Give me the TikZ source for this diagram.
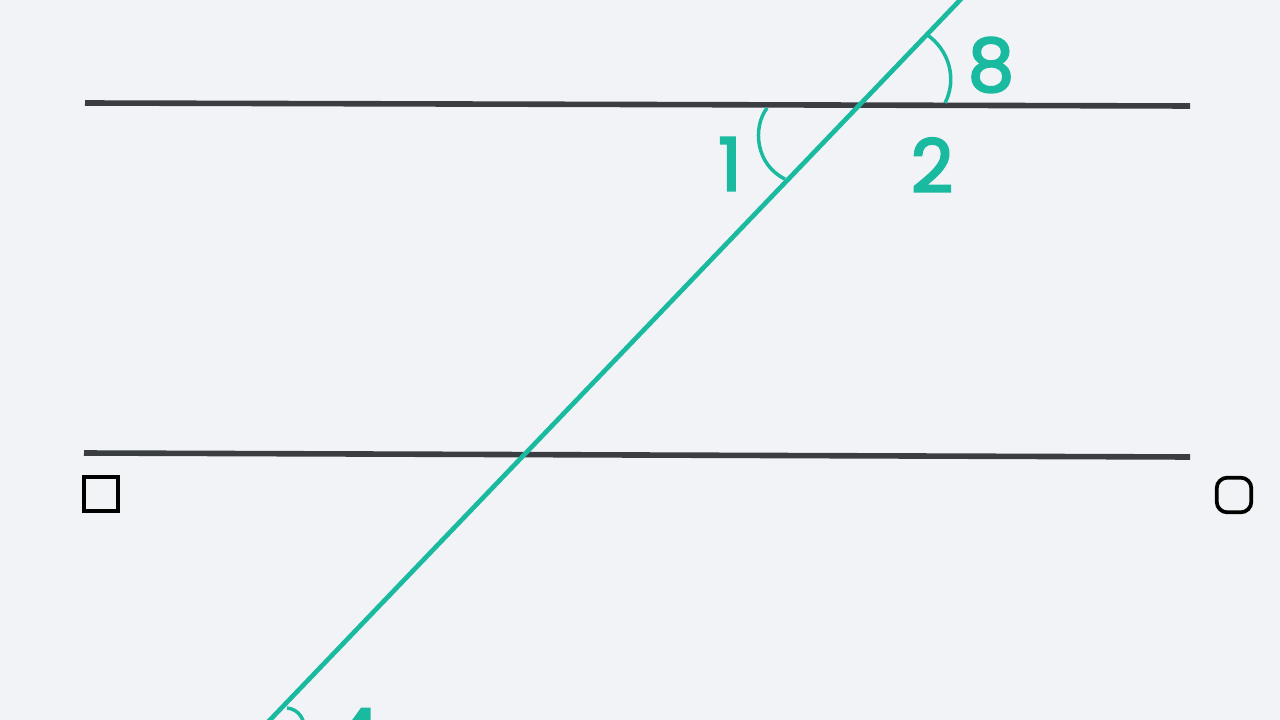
\documentclass[tikz,border=0pt]{standalone}
\usepackage{fontspec}
\setmainfont{Poppins}
\newfontfamily\labfont{Poppins}[FakeBold=3]
\definecolor{bg}{RGB}{241,243,246}
\definecolor{teal}{RGB}{26,186,160}
\definecolor{ink}{RGB}{58,61,66}
\tikzset{
  parline/.style={draw=ink, line width=4.2pt},
  trans/.style={draw=teal, line width=3.5pt},
  anglearc/.style={draw=teal, line width=2.6pt},
  anglelab/.style={text=teal, font=\labfont\fontsize{55}{58}\selectfont, inner sep=0pt},
  glyphbox/.style={draw=black, line width=2.8pt, minimum width=26pt, minimum height=26pt, inner sep=0pt},
}
\begin{document}
\begin{tikzpicture}[x=0.75pt, y=-0.75pt]
\fill[bg] (0,0) rectangle (1280,720);
\useasboundingbox (0,0) rectangle (1280,720);
\clip (0,0) rectangle (1280,720);
% parallel lines
\coordinate (a1) at (85,103);
\coordinate (a2) at (1190,106);
\coordinate (b1) at (84,453);
\coordinate (b2) at (1190,457);
\draw[parline] (a1) -- (a2);
\draw[parline] (b1) -- (b2);
% transversal
\coordinate (t1) at (268,722);
\coordinate (t2) at (962,-2);
\draw[trans] (t1) -- (t2);
% angle arcs
\coordinate (p1) at (767,108);
\coordinate (p2) at (785,179);
\draw[anglearc] (p1) .. controls (752,128) and (756,165) .. (p2);
\coordinate (q1) at (926,34);
\coordinate (q2) at (945,103);
\draw[anglearc] (q1) .. controls (950,50) and (957,80) .. (q2);
\coordinate (r1) at (287,708);
\coordinate (r2) at (304,724);
\draw[anglearc] (r1) .. controls (296,709) and (302,715) .. (r2);
% labels
\node[anglelab] (l1) at (730,164) {1};
\node[anglelab] (l2) at (932,165) {2};
\node[anglelab] (l8) at (991,65) {8};
\node[anglelab] (l4) at (356,735) {4};
% glyph boxes
\node[glyphbox] (gA) at (101,494) {};
\node[glyphbox, rounded corners=8pt] (gB) at (1234,495) {};
\end{tikzpicture}
\end{document}
